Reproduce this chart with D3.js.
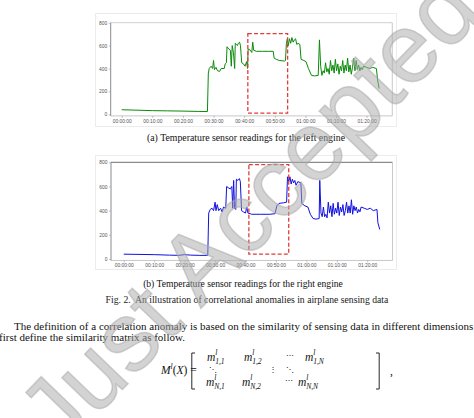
<!DOCTYPE html>
<html><head><meta charset="utf-8">
<script src="https://cdn.jsdelivr.net/npm/d3@7/dist/d3.min.js"></script>
<style>html,body{margin:0;padding:0;background:#fff;overflow:hidden}</style>
</head><body>
<svg id="c" width="474" height="418"></svg>
<script>
// ---- data (time in minutes since start, temperature reading) ----
const tickMinutes = [0, 10, 20, 30, 40, 50, 60, 70, 80];
const tickLabels = ["00:00:00","00:10:00","00:20:00","00:30:00","00:40:00","00:50:00","01:00:00","01:10:00","01:20:00"];
const yTicks = [0, 200, 400, 600, 800];

const leftTimes = [0,5,10,15,20,25,28,28.3,28.6,29.2,29.7,30.0,30.3,30.8,31.3,32,32.5,33.5,33.8,34.2,34.4,35.0,35.5,35.8,36.1,36.5,36.9,37.1,37.5,37.8,38.1,38.5,38.8,39.2,39.8,40.3,40.8,41.1,41.3,42.0,42.5,42.8,43.1,44,46,48,49.5,49.8,50.5,51.5,53.2,53.5,53.8,54.1,54.4,54.8,55.2,55.6,56,56.4,56.8,57.2,57.6,58.2,58.6,59.5,60.2,61,62,63,64.2,64.6,65,65.4,65.8,66.2,66.6,67,67.4,67.8,68.2,68.6,69,69.4,69.8,70.2,70.6,71,71.4,71.8,72.2,72.6,73,73.4,73.8,74.2,74.6,75,75.4,75.8,76.2,76.6,77,77.4,77.8,78.2,78.6,79,80,81,82,83.2,83.6,84.1];
const leftValues = [40,36,32,30,28,25,24,360,400,420,400,470,390,410,380,375,400,400,440,450,590,570,560,420,600,540,400,620,610,600,620,630,600,450,440,420,460,400,570,560,540,630,560,550,550,550,550,490,480,470,465,470,620,660,600,660,620,670,630,650,660,610,620,610,480,470,460,400,340,335,340,650,420,340,380,360,450,370,400,350,470,380,430,360,480,380,440,350,420,380,470,360,430,380,490,370,430,350,410,490,380,470,390,430,380,410,390,420,410,400,410,400,300,225];

const rightTimes = [0,5,10,15,18,20,22,25,27.6,27.9,28.4,29,29.5,30.0,30.3,30.7,31.2,31.8,32.3,32.8,33.5,33.8,34.3,35.0,35.5,35.8,36.1,36.4,36.8,37.0,37.5,38.0,38.3,38.7,39.3,40,40.4,40.8,41.5,42,45,48,49.7,50.3,51,52.5,53.5,53.8,54.2,54.6,55,55.4,55.8,56.2,56.6,57.2,58.2,58.5,59.5,60.5,61.3,62.2,63.2,64.2,64.4,64.8,65.2,65.6,66,66.4,66.8,67.2,67.6,68,68.4,68.8,69.2,69.6,70,70.4,70.8,71.2,71.6,72,72.4,72.8,73.2,73.6,74,74.4,74.8,75.2,75.6,76,76.4,76.8,77.2,77.6,78,79,80,81,82,83.2,83.5,84.1];
const rightValues = [40,38,36,32,30,36,32,30,30,380,410,420,400,470,400,450,400,420,390,430,420,600,590,580,600,420,650,420,410,660,650,665,640,400,390,380,430,380,375,370,370,370,375,440,460,465,470,680,640,680,620,660,630,650,610,640,630,460,440,430,370,335,330,335,650,380,350,430,350,370,340,470,380,440,350,460,370,420,380,470,360,430,390,450,360,400,470,380,440,380,490,370,440,400,430,380,410,390,430,420,410,420,400,410,300,245];

// anomaly window [start minute, end minute, low value, high value]
const boxLeft = [41.2, 54.2, 10, 705];
const boxRight = [41.1, 54.2, 40, 780];

const captions = ["(a) Temperature sensor readings for the left engine",
                  "(b) Temperature sensor readings for the right engine"];
const figCaption = "Fig. 2.  An illustration of correlational anomalies in airplane sensing data";
const paraLines = ["The definition of a correlation anomaly is based on the similarity of sensing data in different dimensions",
                   "first define the similarity matrix as follow."];

const svg = d3.select("#c");

function drawChart(o) {
  const g = svg.append("g");
  const x = d3.scaleLinear().domain(o.xDom).range([o.left, o.right]);
  const y = d3.scaleLinear().domain([0, 800]).range([o.y0, o.y800]);
  g.append("rect").attr("x", o.fig[0]).attr("y", o.fig[1]).attr("width", o.fig[2]).attr("height", o.fig[3])
    .attr("fill", "none").attr("stroke", "#ececec").attr("stroke-width", 1);
  const bottom = y(o.yMin);
  g.append("line").attr("x1", o.left).attr("x2", o.right).attr("y1", y(800)).attr("y2", y(800))
    .attr("stroke", o.topColor).attr("stroke-width", 1);
  g.append("line").attr("x1", o.right).attr("x2", o.right).attr("y1", y(800)).attr("y2", bottom)
    .attr("stroke", "#bdbdbd").attr("stroke-width", 0.8);
  const xa = d3.axisBottom(x).tickValues(tickMinutes).tickFormat((d, i) => tickLabels[i]).tickSize(2).tickPadding(1.5);
  const ya = d3.axisLeft(y).tickValues(yTicks).tickSize(2).tickPadding(1.5);
  const gx = g.append("g").attr("transform", `translate(0,${bottom})`).call(xa);
  const gy = g.append("g").attr("transform", `translate(${o.left},0)`).call(ya);
  gx.select(".domain").attr("stroke", "#c8c8c8").attr("d", `M${o.left},0H${o.right}`);
  gy.select(".domain").attr("stroke", "#8a8a8a").attr("d", `M0,${y(800)}V${bottom}`);
  [gx, gy].forEach(a => {
    a.selectAll(".tick line").attr("stroke", "#999").attr("stroke-width", 0.6);
    a.selectAll("text").attr("font-family", "Liberation Sans, Arial, sans-serif").attr("font-size", 4.9).attr("fill", "#555");
  });
  const line = d3.line().x((d, i) => x(o.times[i])).y(d => y(d));
  g.append("path").datum(o.values).attr("d", line).attr("fill", "none")
    .attr("stroke", o.color).attr("stroke-width", 1).attr("stroke-linejoin", "round");
  g.append("rect").attr("x", x(o.box[0])).attr("y", y(o.box[3]))
    .attr("width", x(o.box[1]) - x(o.box[0])).attr("height", y(o.box[2]) - y(o.box[3]))
    .attr("fill", "none").attr("stroke", "#e23b3b").attr("stroke-width", 1.3).attr("stroke-dasharray", "4,2.2");
  svg.append("text").attr("x", o.capX).attr("y", o.capY).attr("text-anchor", "middle")
    .attr("font-family", "Liberation Serif, serif").attr("font-size", o.capSize).attr("fill", "#111").text(o.caption);
}

drawChart({xDom: [-3.6, 88.4], left: 110.7, right: 392.3, y0: 114.3, y800: 22.7, yMin: -14,
  fig: [95.5, 13.5, 301, 113], topColor: "#d0d0d0", color: "#0a8a0a",
  times: leftTimes, values: leftValues, box: boxLeft, caption: captions[0], capX: 246, capY: 140.5, capSize: 9.8});
drawChart({xDom: [-4.2, 88.3], left: 111, right: 392.5, y0: 259, y800: 162.3, yMin: -12,
  fig: [95.5, 155.5, 301, 114], topColor: "#707070", color: "#1010e0",
  times: rightTimes, values: rightValues, box: boxRight, caption: captions[1], capX: 243, capY: 286.5, capSize: 9.6});

const serif = "Liberation Serif, serif";
svg.append("text").attr("x", 247).attr("y", 303).attr("text-anchor", "middle")
  .attr("font-family", serif).attr("font-size", 9.7).attr("fill", "#222").attr("xml:space", "preserve").text(figCaption);
svg.append("text").attr("x", 14).attr("y", 329.5).attr("font-family", serif).attr("font-size", 11).attr("fill", "#111").text(paraLines[0]);
svg.append("text").attr("x", -1).attr("y", 340.5).attr("font-family", serif).attr("font-size", 11).attr("fill", "#111").text(paraLines[1]);

// matrix equation
const eq = svg.append("g").attr("font-family", serif).attr("font-size", 11.5).attr("fill", "#111");
function mEntry(xp, yp, sub) {
  const t = eq.append("text").attr("x", xp).attr("y", yp);
  t.append("tspan").attr("font-style", "italic").text("m");
  t.append("tspan").attr("font-style", "italic").attr("font-size", 7.6).attr("dy", -5.5).text("l");
  t.append("tspan").attr("font-size", 7.6).attr("dx", -2.3).attr("dy", 8.6).attr("font-style", "italic").text(sub);
}
function dots(xp, yp, s) {
  eq.append("text").attr("x", xp).attr("y", yp).attr("font-size", 7.5).attr("text-anchor", "middle").text(s);
}
const lhs = eq.append("text").attr("x", 161).attr("y", 374);
lhs.append("tspan").attr("font-style", "italic").text("M");
lhs.append("tspan").attr("font-style", "italic").attr("font-size", 7.6).attr("dy", -5).text("l");
lhs.append("tspan").attr("dy", 5).text("(");
lhs.append("tspan").attr("font-style", "italic").text("X");
lhs.append("tspan").text(") =");
eq.append("path").attr("d", "M195,353H191.8V389H195").attr("fill", "none").attr("stroke", "#111").attr("stroke-width", 0.9);
eq.append("path").attr("d", "M376,353H379.2V389H376").attr("fill", "none").attr("stroke", "#111").attr("stroke-width", 0.9);
mEntry(207, 360.5, "1,1"); mEntry(244, 360.5, "1,2"); mEntry(305, 360.5, "1,N");
mEntry(206, 385.5, "N,1"); mEntry(242, 385.5, "N,2"); mEntry(298, 385.5, "N,N");
dots(290, 358, "⋯");
dots(289, 383, "⋯");
dots(213, 371.5, "⋱");
dots(273, 371.5, "⋮");
dots(290, 371.5, "⋱");
eq.append("text").attr("x", 390).attr("y", 375).text(",");

// watermark
svg.append("text").attr("transform", "translate(254,216) rotate(-46)").attr("text-anchor", "middle")
  .attr("dominant-baseline", "middle")
  .attr("font-family", "Liberation Sans, Arial, sans-serif").attr("font-size", 98)
  .attr("fill", "#a8a8a8").attr("fill-opacity", 0.5)
  .attr("stroke", "#a8a8a8").attr("stroke-opacity", 0.5).attr("stroke-width", 1.5)
  .text("Just Accepted");
</script>
</body></html>
